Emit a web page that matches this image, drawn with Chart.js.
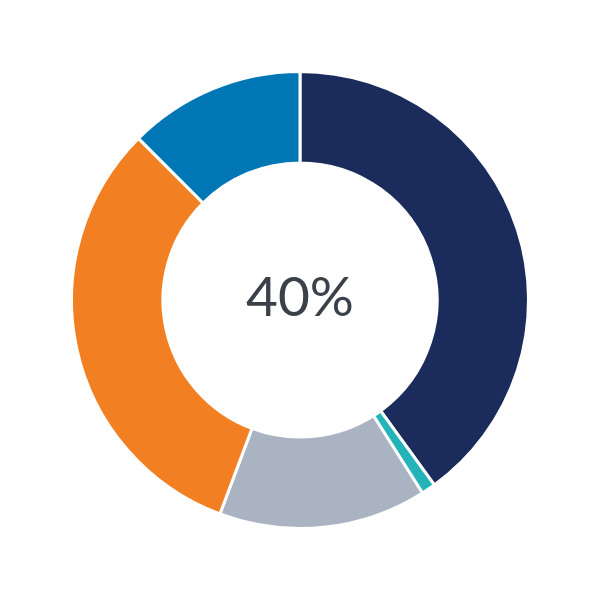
<!DOCTYPE html>
<html>
<head>
<meta charset="utf-8">
<script src="https://cdn.jsdelivr.net/npm/chart.js@4"></script>
<style>
  html, body { margin: 0; padding: 0; background: #fff; }
  #wrap { width: 600px; height: 600px; }
</style>
</head>
<body>
<div id="wrap"><canvas id="myChart" width="600" height="600"></canvas></div>
<script>
const labels = ["Navy", "Teal", "Gray", "Orange", "Blue"];
const values = [40, 1, 14.7, 31.8, 12.5];
const colors = ["#1b2b5b", "#22b4b8", "#a9b3c2", "#f27f22", "#0077b5"];
const centerText = "40%";

const centerLabel = {
    id: "centerLabel",
    afterDraw: (chart) => {
        const ctx = chart.ctx;
        const arc = chart.getDatasetMeta(0).data[0];
        ctx.save();
        ctx.font = "400 55px Lato";
        ctx.fillStyle = "#3a414b";
        ctx.textAlign = "center";
        ctx.textBaseline = "middle";
        ctx.fillText(centerText, arc.x, arc.y - 2);
        ctx.restore();
    }
};

function main() {
    const ctx = document.getElementById("myChart").getContext("2d");
    new Chart(ctx, {
        type: "doughnut",
        data: {
            labels: labels,
            datasets: [{
                data: values,
                backgroundColor: colors,
                borderColor: "#ffffff",
                borderWidth: 3
            }]
        },
        options: {
            responsive: false,
            animation: false,
            cutout: "60%",
            layout: { padding: 70 },
            plugins: {
                legend: { display: false },
                tooltip: { enabled: false }
            }
        },
        plugins: [centerLabel]
    });
}

main();
</script>
</body>
</html>
